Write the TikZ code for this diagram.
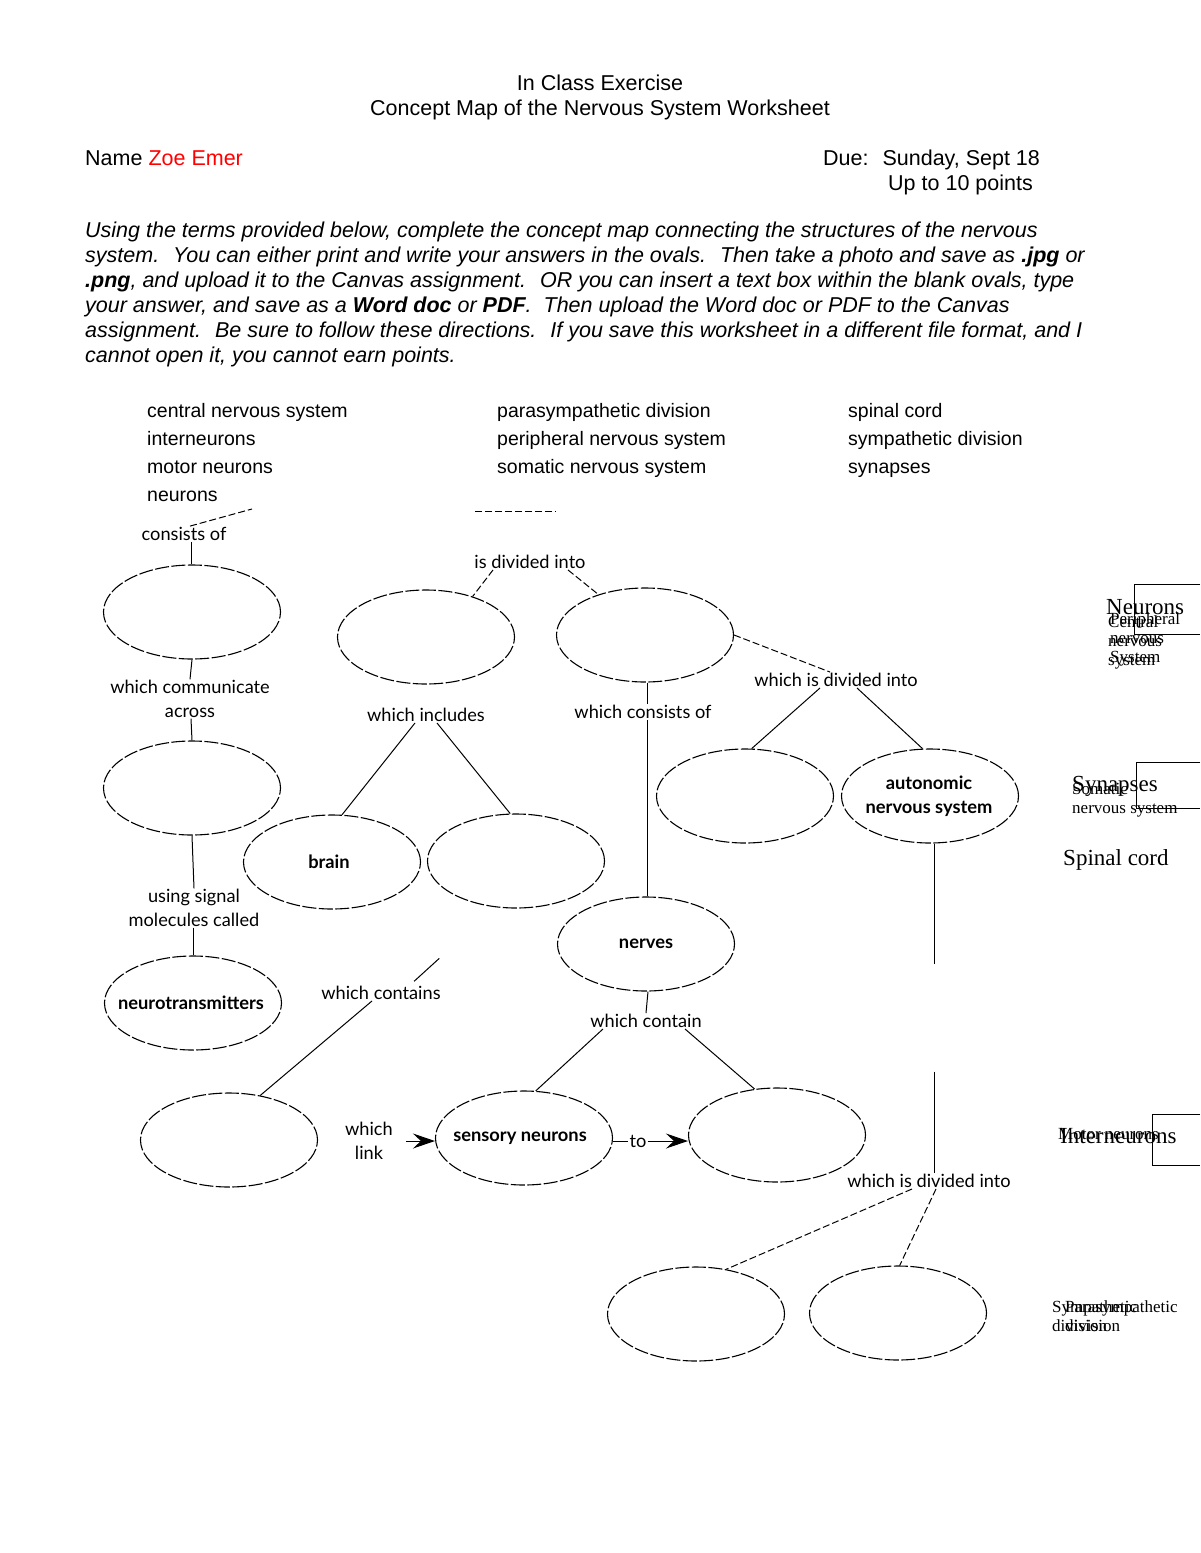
\documentclass[tikz,border=0pt]{standalone}
\usepackage{fontspec}
\setmainfont{Liberation Sans}
\newfontfamily\mapfont{Lato}
\newfontfamily\serifA{Liberation Serif}
\usetikzlibrary{arrows.meta,shapes.geometric}
\begin{document}
\begin{tikzpicture}[x=1pt,y=-1pt,
  hdr/.style={inner sep=0pt,anchor=base west,font=\fontsize{21.5}{25}\selectfont},
  term/.style={inner sep=0pt,anchor=base west,font=\fontsize{19.5}{24}\selectfont},
  lbl/.style={inner sep=1pt,align=center,font=\mapfont\fontsize{18.2}{23.5}\selectfont},
  oval/.style={ellipse,draw,line width=1.1pt,dash pattern=on 14pt off 2.5pt,
     minimum width=177pt,minimum height=94pt,inner sep=0pt},
  ovtext/.style={inner sep=0pt,align=center,font=\mapfont\bfseries\fontsize{18.3}{24}\selectfont},
  link/.style={line width=1pt},
  dlink/.style={line width=1pt,dash pattern=on 7pt off 3pt},
  big/.style={inner sep=0pt,anchor=base west,font=\serifA\fontsize{23}{23}\selectfont},
  small/.style={inner sep=0pt,anchor=base west,align=left,font=\serifA\fontsize{17}{19}\selectfont},
  boxline/.style={line width=1pt},
  tip/.style={-{Stealth[length=22pt,width=15pt,inset=8pt]}}
]
\useasboundingbox (0,0) rectangle (1200,1553);

% ---------- header ----------
\node[inner sep=0pt,anchor=base,font=\fontsize{21.5}{25}\selectfont] (t1) at (600,90) {In Class Exercise};
\node[inner sep=0pt,anchor=base,font=\fontsize{21.5}{25}\selectfont] (t2) at (600,115) {Concept Map of the Nervous System Worksheet};
\node[hdr] (name) at (85,165) {Name \textcolor{red}{Zoe Emer}};
\node[hdr] (due) at (823,165) {Due:~ Sunday, Sept 18};
\node[hdr] (pts) at (888,190) {Up to 10 points};

\node[inner sep=0pt,anchor=north west,align=left,font=\itshape\fontsize{21.5}{25}\selectfont] (para) at (85,222)
{Using the terms provided below, complete the concept map connecting the structures of the nervous\\
system.~ You can either print and write your answers in the ovals.~ Then take a photo and save as \textbf{.jpg} or\\
\textbf{.png}, and upload it to the Canvas assignment.~ OR you can insert a text box within the blank ovals, type\\
your answer, and save as a \textbf{Word doc} or \textbf{PDF}.~ Then upload the Word doc or PDF to the Canvas\\
assignment.~ Be sure to follow these directions.~ If you save this worksheet in a different file format, and I\\
cannot open it, you cannot earn points.};

% ---------- terms ----------
\node[term] (w1) at (147,417) {central nervous system};
\node[term] (w2) at (147,445) {interneurons};
\node[term] (w3) at (147,473) {motor neurons};
\node[term] (w4) at (147,501) {neurons};
\node[term] (w5) at (497,417) {parasympathetic division};
\node[term] (w6) at (497,445) {peripheral nervous system};
\node[term] (w7) at (497,473) {somatic nervous system};
\node[term] (w8) at (848,417) {spinal cord};
\node[term] (w9) at (848,445) {sympathetic division};
\node[term] (w10) at (848,473) {synapses};

% ---------- ovals ----------
\node[oval] (A) at (192,612) {};
\node[oval] (B) at (192,788) {};
\node[oval] (NT) at (193,1003) {};
\node[oval] (C) at (426,637) {};
\node[oval] (D) at (645,635) {};
\node[oval] (BR) at (332,862) {};
\node[oval] (E) at (516,861) {};
\node[oval] (F) at (745,796) {};
\node[oval] (AU) at (930,796) {};
\node[oval] (NV) at (646,944) {};
\node[oval] (S) at (524,1138) {};
\node[oval] (I) at (777,1135) {};
\node[oval] (J) at (229,1140) {};
\node[oval] (G) at (696,1314) {};
\node[oval] (H) at (898,1313) {};

\node[ovtext] (NTt) at (191,1003) {neurotransmitters};
\node[ovtext] (BRt) at (329,862) {brain};
\node[ovtext] (AUt) at (929,796) {autonomic\\nervous system};
\node[ovtext] (NVt) at (646,944) {nerves};
\node[ovtext] (St) at (520,1138) {sensory neurons};

% ---------- labels ----------
\node[lbl] (cons) at (184,534) {consists of};
\node[lbl] (comm) at (190,699) {which communicate\\across};
\node[lbl] (usig) at (194,908) {using signal\\molecules called};
\node[lbl] (div1) at (530,562) {is divided into};
\node[lbl] (incl) at (426,715) {which includes};
\node[lbl] (csof) at (643,712) {which consists of};
\node[lbl] (div2) at (836,680) {which is divided into};
\node[lbl] (div3) at (929,1181) {which is divided into};
\node[lbl] (cont) at (646,1021) {which contain};
\node[lbl] (cnts) at (381,993) {which contains};
\node[lbl] (lnk) at (369,1141) {which\\link};
\node[lbl] (to) at (638,1141) {to};

% ---------- top fragments ----------
\coordinate (topL) at (252,509);
\coordinate (topM1) at (475,511);
\coordinate (topM2) at (556,511);
\draw[dlink] ([xshift=6pt]cons.north) -- (topL);
\draw[dlink] (topM1) -- (topM2);

% ---------- connectors ----------
\draw[link] ([xshift=7pt]cons.south) -- ([xshift=-1pt]A.north);
\draw[link] (A.south) -- (comm.north);
\draw[link] ([xshift=1pt]comm.south) -- (B.north);
\draw[link] (B.south) -- (usig.north);
\draw[link] ([xshift=-1pt]usig.south) -- (NT.north);

\draw[dlink] ([xshift=-37pt]div1.south) -- (C.41);
\draw[dlink] ([xshift=38pt]div1.south) -- (D.139);

\draw[link] ([xshift=-11pt]incl.south) -- (BR.78);
\draw[link] ([xshift=11pt]incl.south) -- (E.97);

\draw[link] ([xshift=2pt]D.south) -- ([xshift=4pt]csof.north);
\draw[link] ([xshift=4pt]csof.south) -- ([xshift=1pt]NV.north);

\draw[dlink] (D.east) -- ([xshift=-6pt]div2.north);
\draw[link] ([xshift=-16pt]div2.south) -- (F.82);
\draw[link] ([xshift=21pt]div2.south) -- (AU.99);

\draw[link,dash pattern=on 120pt off 108pt on 200pt off 1pt] ([xshift=4pt]AU.south) -- ([xshift=5pt]div3.north);
\draw[dlink] ([xshift=-17pt]div3.south) -- (G.56);
\draw[dlink] ([xshift=7pt]div3.south) -- (H.88);

\draw[link] ([xshift=2pt]NV.south) -- (cont.north);
\draw[link] ([xshift=-43pt]cont.south) -- (S.76);
\draw[link] ([xshift=39pt]cont.south) -- (I.116);

\draw[link] ([yshift=-3pt]S.east) -- (to.west);
\draw[link,tip] (to.east) -- ([yshift=-6pt]I.west);
\draw[link,tip,shorten <=12pt] (lnk.east) -- ([yshift=-3pt]S.west);

\draw[link,dash pattern=on 34pt off 76pt,dash phase=34pt] (E.-114) -- ([xshift=29pt]cnts.north);
\draw[link] ([xshift=-9pt]cnts.south) -- (J.55);

% ---------- overlapping text boxes on the right ----------
\draw[boxline] (1200,584) -- (1134,584) -- (1134,634) -- (1200,634);
\node[big] (n1) at (1106,614) {Neurons};
\node[small] (n2) at (1108,665) {Central\\nervous\\system};
\node[small] (n3) at (1110,662) {Peripheral\\nervous\\System};

\draw[boxline] (1200,762) -- (1136,762) -- (1136,808) -- (1200,808);
\node[big] (s1) at (1072,791) {Synapses};
\node[small] (s2) at (1072,813) {Somatic\\nervous system};

\node[big] (sc) at (1063,865) {Spinal cord};

\draw[boxline] (1200,1114) -- (1152,1114) -- (1152,1165) -- (1200,1165);
\node[big] (m1) at (1060,1143) {Interneurons};
\node[small] (m2) at (1058,1139) {Motor neurons};

\node[small] (p1) at (1052,1331) {Sympathetic\\division};
\node[small] (p2) at (1065,1331) {Parasympathetic\\division};
\end{tikzpicture}
\end{document}
